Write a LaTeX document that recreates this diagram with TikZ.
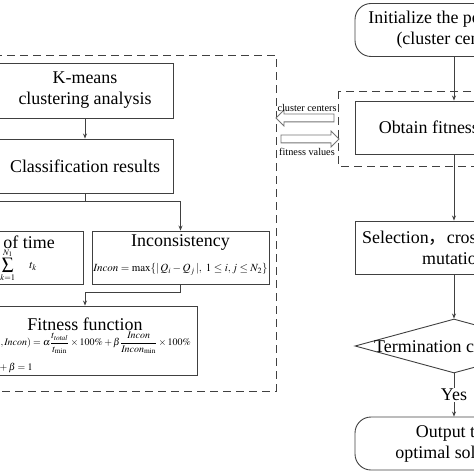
\documentclass[tikz,border=0pt]{standalone}
\usepackage{mathptmx}
\usepackage{fontspec}
\setmainfont{Liberation Serif}
\newfontfamily\cjkfont{Noto Sans CJK SC}
\usetikzlibrary{arrows.meta,shapes.geometric,shapes.arrows}
\newcommand{\bigtxt}{\fontsize{18}{21}\selectfont}
\newcommand{\smalltxt}{\fontsize{10.3}{12}\selectfont}
\newcommand{\mathtxt}{\fontsize{11}{13}\selectfont}
\newcommand{\fittxt}{\fontsize{10}{12}\selectfont}
\tikzset{
    box/.style={draw=black!75,line width=0.9bp,minimum width=198bp,minimum height=53bp,inner sep=0pt,align=center,font=\bigtxt},
    start/.style={box,rounded corners=16bp},
    decision/.style={diamond,draw=black!75,line width=0.9bp,minimum width=198bp,minimum height=54bp,inner sep=0pt},
    line/.style={draw=black!75,line width=0.9bp},
    arr/.style={line,-{Stealth[length=5bp,width=4bp]}},
    group/.style={draw=black!75,line width=0.9bp,dash pattern=on 8bp off 5bp},
    hollow/.style={single arrow,draw=black!55,line width=0.8bp,inner sep=3.5bp,single arrow head extend=4bp,minimum height=58bp}
}

\begin{document}
\begin{tikzpicture}[x=1bp,y=-1bp]
\useasboundingbox (0,0) rectangle (474,474);
\clip (0,0) rectangle (474,474);
% clustering part
\draw[group] (-130,55) rectangle (276,391);
\node[box,minimum width=176bp,minimum height=55bp] (kmeans) at (85,90.5) {K-means\\clustering analysis};
\node[box,minimum width=176bp,minimum height=54bp] (classres) at (85,166) {Classification results};
\node[box,minimum width=177bp] (timebox) at (-5,257.5) {};
\node[box,minimum width=177bp] (inconbox) at (180.5,257.5) {};
\node[font=\bigtxt] (timetitle) at (-5,242) {Duration of time};
\node[font=\fontsize{11.5}{14}\selectfont,anchor=east,inner sep=0pt] (timeform) at (37,265) {$t_{\mathit{total}}=\displaystyle\sum_{k=1}^{N_1}\hspace{13bp}t_k$};
\node[font=\bigtxt] (incontitle) at (180.5,242) {Inconsistency};
\node[font=\mathtxt] (inconform) at (180.5,269) {$\mathit{Incon}=\max\{|\,Q_i-Q_j\,|,\ 1\le i,j\le N_2\}$};
\node[box,minimum width=224bp,minimum height=69bp] (fitbox) at (85,340.5) {};
\node[font=\bigtxt] (fittitle) at (85,324) {Fitness function};
\node[font=\fittxt,anchor=west,inner sep=0pt] (fitform) at (-27,343) {$\displaystyle F(t_{\mathit{total}},\mathit{Incon})=\alpha\frac{t_{\mathit{total}}}{t_{\min}}\times100\%+\beta\frac{\mathit{Incon}}{\mathit{Incon}_{\min}}\times100\%$};
\node[font=\fittxt,anchor=west,inner sep=0pt] (fitsum) at (-9,368) {$\alpha+\beta=1$};
% genetic algorithm part
\node[start] (init) at (454,30) {Initialize the population\\(cluster centers)};
\draw[group] (338,91) rectangle (570,166);
\node[box] (obtain) at (454,127.5) {Obtain fitness values};
\node[box] (select) at (454,247.5) {Selection{\cjkfont ，}crossover and\\mutation};
\node[decision,label={[font=\bigtxt]center:Termination condition}] (term) at (454,346) {};
\node[start] (output) at (454,443.5) {Output the\\optimal solution};
% exchange between the parts
\node[hollow,shape border rotate=180] (sendc) at (307,118) {};
\node[hollow] (sendf) at (308,139) {};
\node[font=\smalltxt] (lblc) at (307,108) {cluster centers};
\node[font=\smalltxt] (lblf) at (307,152) {fitness values};
% connectors
\draw[arr] (kmeans) -- (classres);
\draw[line] (classres.south) -- ++(0,8) coordinate (split);
\draw[arr] (split) -| (inconbox.north);
\draw[arr] (split) -| (timebox.north);
\draw[line] (inconbox.south) -- ++(0,8) coordinate (merge);
\draw[arr] (merge) -| (fitbox.north);
\draw[arr] (timebox.south) -- (timebox.south |- fitbox.north);
\draw[arr] (init) -- (obtain);
\draw[arr] (obtain) -- (select);
\draw[arr] (select) -- (term);
\draw[arr] (term) -- node[fill=white,font=\bigtxt,inner sep=1bp] (yes) {Yes} (output);
\end{tikzpicture}
\end{document}
